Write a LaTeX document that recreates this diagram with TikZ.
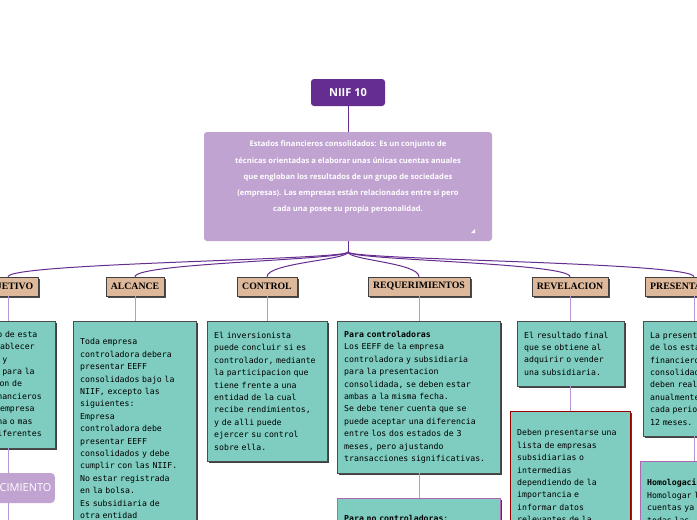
\documentclass[tikz,border=0pt]{standalone}
\usepackage{fontspec}
\setmainfont{Open Sans}
\newfontfamily\boxfont{DejaVu Sans Mono}
\newfontfamily\headfont{Liberation Serif}
\usetikzlibrary{shadows,calc}
\definecolor{dpurple}{HTML}{662D91}
\definecolor{lpurple}{HTML}{C0A3D1}
\definecolor{vline}{HTML}{B796D3}
\definecolor{tan}{HTML}{DDB89A}
\definecolor{teal}{HTML}{7ECDC0}
\tikzset{
 x=1pt,y=-1pt,
 hdr/.style={draw=black!75,fill=tan,inner xsep=5pt,inner ysep=3pt,minimum height=19pt,
   font=\headfont\bfseries\fontsize{9.8}{10}\selectfont,
   drop shadow={shadow xshift=2pt,shadow yshift=-2pt,opacity=1,fill=black!70}},
 tbox/.style={draw=black!70,fill=teal,anchor=north west,align=left,inner xsep=7pt,inner ysep=8pt,
   font=\boxfont\fontsize{8.2}{12.4}\selectfont,
   drop shadow={shadow xshift=2pt,shadow yshift=-2pt,opacity=1,fill=black!75}},
 br/.style={dpurple,line width=1pt},
 vl/.style={vline,line width=0.8pt},
}
\begin{document}
\begin{tikzpicture}
\useasboundingbox (0,0) rectangle (697,520);
\clip (0,0) rectangle (697,520);
\fill[white] (0,0) rectangle (697,520);
% top
\node[fill=dpurple,rounded corners=3pt,text=white,font=\bfseries\fontsize{11}{12}\selectfont,minimum width=74pt,minimum height=27pt] (niif) at (348,92.5) {NIIF 10};
\node[fill=lpurple,rounded corners=3pt,text=white,font=\bfseries\fontsize{7.6}{16.2}\selectfont,minimum width=288pt,minimum height=109pt,align=center] (desc) at (348,186.5) {Estados financieros consolidados:  Es un conjunto de\\técnicas orientadas a elaborar unas únicas cuentas anuales\\que engloban los resultados de un grupo de sociedades\\(empresas). Las empresas están relacionadas entre si pero\\cada una posee su propia personalidad.\\[4pt]};
\fill[white] (475,229) -- (475,233) -- (471,233) -- cycle;
\draw[br] (niif.south) -- (desc.north);
\coordinate (bp) at (348,252);
\draw[br] (desc.south) -- (bp);
% headers
\node[hdr] (h1) at (8,286.5) {OBJETIVO};
\node[hdr] (h2) at (135,286.5) {ALCANCE};
\node[hdr] (h3) at (267,286.5) {CONTROL};
\node[hdr] (h4) at (419,286.5) {REQUERIMIENTOS};
\node[hdr] (h5) at (570,286.5) {REVELACION};
\node[hdr,anchor=west] (h6) at (645,286.5) {PRESENTACION};
\coordinate (c6) at (694,0);
\coordinate (c1) at (8,0);
\foreach \h in {h1,h2,h3,h4,h5} {
 \draw[br] (bp) .. controls ($(bp)+(0,8)$) and ($(\h.north)+(0,-14)$) .. (\h.north);
}
\draw[br] (bp) .. controls (348,260) and (694,262) .. (c6 |- h6.north);
% boxes
\node[tbox,text width=98pt,minimum height=127pt] (b1) at (-57,321) {El objetivo de esta\\NIIF es establecer\\principios y\\requisitos para la\\presentacion de\\estados financieros\\cuando una empresa\\controla una o mas\\empresas diferentes};
\node[tbox,text width=109pt,minimum height=215pt] (b2) at (73,321) {Toda empresa\\controladora debera\\presentar EEFF\\consolidados bajo la\\NIIF, excepto las\\siguientes:\\* Empresa\\controladora debe\\presentar EEFF\\consolidados y debe\\cumplir con las NIIF.\\* No estar registrada\\en la bolsa.\\* Es subsidiaria de\\otra entidad\\};
\node[tbox,text width=106pt,minimum height=140pt] (b3) at (207,321) {El inversionista\\puede concluir si es\\controlador, mediante\\la participacion que\\tiene frente a una\\entidad de la cual\\recibe rendimientos,\\y de alli puede\\ejercer su control\\sobre ella.};
\node[tbox,text width=149pt,minimum height=152pt] (b4) at (337,321) {\textbf{Para controladoras}\\* Los EEFF de la empresa\\controladora y subsidiaria\\para la presentacion\\consolidada, se deben estar\\ambas a la misma fecha.\\* Se debe tener cuenta que se\\puede aceptar una diferencia\\entre los dos estados de 3\\meses, pero ajustando\\transacciones significativas.};
\node[tbox,draw=violet!60,text width=149pt,minimum height=40pt] (b4b) at (337,498) {\textbf{Para no controladoras}:\\};
\node[tbox,text width=93pt,minimum height=65pt] (b5) at (517,321) {El resultado final\\que se obtiene al\\adquirir o vender\\una subsidiaria.};
\node[tbox,draw=red!60!black,text width=106pt,minimum height=130pt] (b5b) at (510,411) {Deben presentarse una\\lista de empresas\\subsidiarias o\\intermedias\\dependiendo de la\\importancia e\\informar datos\\relevantes de la\\};
\node[tbox,text width=96pt,minimum height=115pt] (b6) at (643,321) {La presentacion\\de los estados\\financieros\\consolidados\\deben realizarse\\anualmente o en\\cada periodo de\\12 meses.};
\node[tbox,draw=violet!60,text width=96pt,minimum height=80pt] (b6b) at (640,461) {\textbf{Homologacion}\\Homologar las\\cuentas ya que\\todas las};
\node[fill=lpurple,rounded corners=4pt,text=white,font=\fontsize{11}{12}\selectfont,minimum height=30pt,anchor=east] (rec) at (55,488) {RECONOCIMIENTO};
% vertical lines
\draw[vl] (c1 |- h1.south) -- (c1 |- b1.north);
\draw[vl] (c1 |- b1.south) -- (c1 |- rec.north);
\draw[vl] (c1 |- rec.south) -- (8,520);
\draw[vl] (h2.south) -- (h2.south |- b2.north);
\draw[vl] (h3.south) -- (h3.south |- b3.north);
\draw[vl] (h4.south) -- (h4.south |- b4.north);
\draw[vl] (h4.south |- b4.south) -- (h4.south |- b4b.north);
\draw[vl] (h5.south) -- (h5.south |- b5.north);
\draw[vl] (h5.south |- b5.south) -- (h5.south |- b5b.north);
\draw[vl] (c6 |- h6.south) -- (c6 |- b6.north);
\draw[vl] (c6 |- b6.south) -- (c6 |- b6b.north);
\end{tikzpicture}
\end{document}
